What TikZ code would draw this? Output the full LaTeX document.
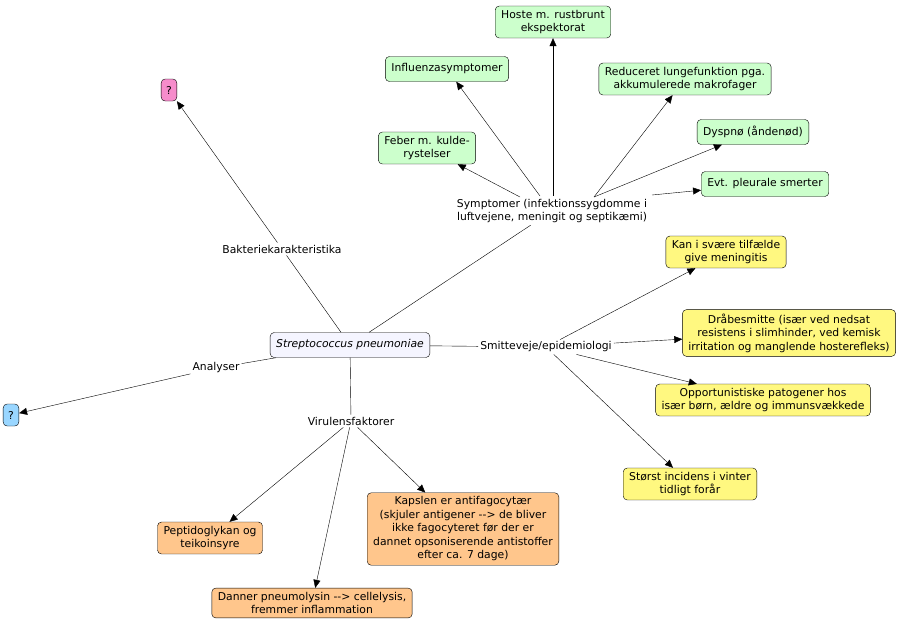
\documentclass[tikz,border=0pt]{standalone}
\usepackage{fontspec}
\setmainfont{DejaVu Sans}
\usetikzlibrary{arrows.meta}
\begin{document}
\begin{tikzpicture}[x=1pt,y=-1pt,
  font=\fontsize{10.8}{13.5}\selectfont,
  box/.style={draw=black,rounded corners=4pt,align=center,inner xsep=6pt,inner ysep=4pt,minimum height=25pt},
  gr/.style={box,fill=green!20},
  yl/.style={box,fill=yellow!50},
  or/.style={box,fill=orange!45},
  lab/.style={align=center,inner sep=2pt,fill=white},
  ln/.style={draw=black},
  ar/.style={draw=black,-{Triangle[length=8pt,width=7pt]}}]
\useasboundingbox (0,0) rectangle (912,625);
\node[box,fill=blue!4,font=\fontsize{10.8}{13.5}\selectfont\itshape] (c) at (350,345) {Streptococcus pneumoniae};
\node[gr] (hoste) at (553,22) {Hoste m. rustbrunt\\ekspektorat};
\node[gr] (infl) at (447,69) {Influenzasymptomer};
\node[gr] (red) at (685,79) {Reduceret lungefunktion pga.\\akkumulerede makrofager};
\node[box,fill=magenta!45,minimum height=22pt,inner xsep=5pt] (q1) at (169,90) {?};
\node[gr] (dys) at (753,132) {Dyspnø (åndenød)};
\node[gr] (feb) at (427,148) {Feber m. kulde-\\rystelser};
\node[gr] (evt) at (765,184) {Evt. pleurale smerter};
\node[lab] (sym) at (552,211) {Symptomer (infektionssygdomme i\\luftvejene, meningit og septikæmi)};
\node[yl] (kan) at (726,252) {Kan i svære tilfælde\\give meningitis};
\node[lab] (bak) at (282,249) {Bakteriekarakteristika};
\node[yl] (dra) at (789,333) {Dråbesmitte (især ved nedsat\\resistens i slimhinder, ved kemisk\\irritation og manglende hosterefleks)};
\node[lab] (smi) at (546,347) {Smitteveje/epidemiologi};
\node[lab] (ana) at (216,368) {Analyser};
\node[box,fill=blue!40!cyan!40,minimum height=22pt,inner xsep=5pt] (q2) at (11,415) {?};
\node[yl] (opp) at (763,400) {Opportunistiske patogener hos\\især børn, ældre og immunsvækkede};
\node[lab] (vir) at (351,421) {Virulensfaktorer};
\node[yl] (sto) at (690,484) {Størst incidens i vinter\\tidligt forår};
\node[or] (kap) at (463,529) {Kapslen er antifagocytær\\(skjuler antigener -{}-> de bliver\\ikke fagocyteret før der er\\dannet opsoniserende antistoffer\\efter ca. 7 dage)};
\node[or] (pep) at (210,538) {Peptidoglykan og\\teikoinsyre};
\node[or] (pne) at (312,603) {Danner pneumolysin -{}-> cellelysis,\\fremmer inflammation};
\coordinate (s1) at (520,197);
\coordinate (s2) at (540,196);
\coordinate (s3) at (553,196);
\coordinate (s4) at (594,197);
\coordinate (s5) at (652,195);
\draw[ln] (c) -- (sym);
\draw[ar] (s1) -- (feb);
\draw[ar] (s2) -- (infl);
\draw[ar] (s3) -- (hoste);
\draw[ar] (s4) -- (red);
\draw[ar] (s4) -- (dys);
\draw[ar] (s5) -- (evt);
\draw[ln] (c) -- (bak);
\draw[ar] (bak) -- (q1);
\draw[ln] (c) -- (ana);
\draw[ar] (ana) -- (q2);
\draw[ln] (c) -- (smi);
\draw[ar] (smi) -- (kan);
\draw[ar] (smi) -- (dra);
\draw[ar] (smi) -- (opp);
\draw[ar] (smi) -- (sto);
\draw[ln] (c) -- (vir);
\draw[ar] (vir) -- (pep);
\draw[ar] (vir) -- (pne);
\draw[ar] (vir) -- (kap);
\end{tikzpicture}
\end{document}
